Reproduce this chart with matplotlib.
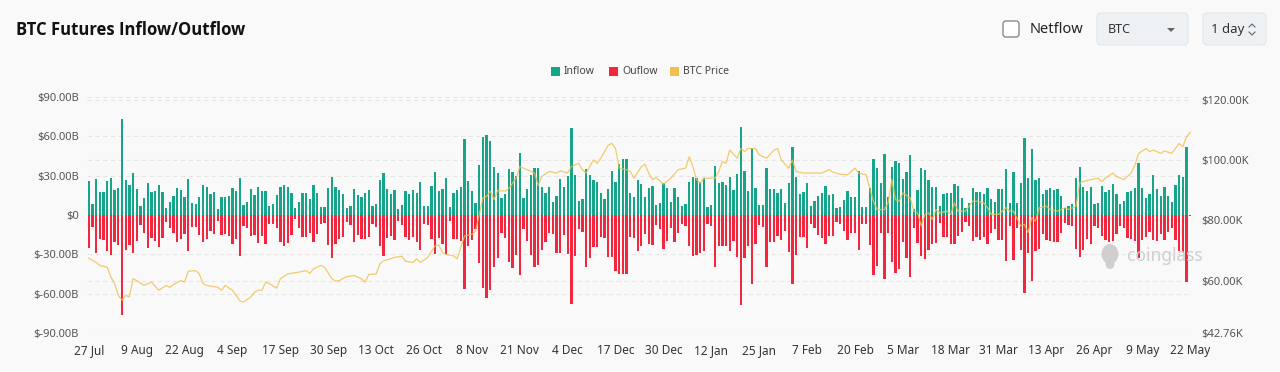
import numpy as np
import pandas as pd
import matplotlib
matplotlib.use("Agg")
import matplotlib.pyplot as plt
from matplotlib.patches import FancyBboxPatch, Rectangle, Ellipse, Polygon
from matplotlib.transforms import IdentityTransform, blended_transform_factory
from matplotlib.lines import Line2D

plt.rcParams['font.family'] = ['Noto Sans', 'DejaVu Sans']

# ---------------- data ----------------
start_date = "2024-07-27"
end_date = "2025-05-22"

inflow = [
    25.9, 8.6, 27.7, 17.3, 17.8, 26.2, 28.4, 19.0, 20.6, 73.4,
    26.9, 22.9, 32.0, 19.8, 7.1, 13.0, 24.6, 17.3, 18.5, 22.6,
    17.8, 5.1, 9.9, 14.2, 20.8, 19.0, 14.0, 27.4, 9.1, 8.1,
    14.0, 23.1, 21.3, 15.7, 17.5, 4.3, 14.0, 13.5, 14.2, 20.6,
    18.3, 28.4, 7.4, 9.7, 20.1, 15.0, 21.3, 18.0, 18.5, 6.9,
    8.1, 15.5, 21.6, 23.1, 21.6, 17.0, 5.1, 10.2, 16.5, 16.5,
    12.4, 22.6, 16.8, 6.1, 5.8, 20.8, 29.2, 21.6, 18.8, 16.0,
    5.1, 6.9, 20.1, 15.0, 14.0, 16.8, 18.8, 7.1, 8.6, 26.4,
    31.8, 20.1, 15.7, 19.0, 4.3, 7.9, 18.5, 15.7, 18.8, 16.8,
    25.1, 6.9, 6.9, 22.1, 32.5, 18.0, 19.8, 28.4, 6.1, 16.5,
    18.8, 21.3, 58.2, 25.9, 18.5, 9.4, 38.1, 59.4, 61.0, 56.4,
    36.8, 31.8, 12.7, 16.0, 34.8, 32.8, 30.0, 47.2, 13.0, 19.6,
    30.5, 35.8, 36.1, 21.6, 17.0, 21.3, 9.9, 14.2, 27.7, 21.6,
    29.7, 66.5, 30.7, 10.7, 11.9, 35.3, 30.5, 26.4, 24.9, 17.0,
    11.9, 19.6, 33.5, 25.1, 38.6, 42.4, 42.9, 17.0, 14.0, 26.7,
    23.9, 14.0, 20.6, 22.4, 7.6, 9.1, 24.6, 20.6, 9.9, 20.6,
    13.7, 6.9, 8.1, 24.9, 29.0, 27.9, 25.1, 28.4, 6.4, 7.6,
    37.3, 24.1, 25.1, 22.6, 29.2, 18.8, 31.0, 67.3, 33.3, 18.3,
    50.8, 20.3, 7.6, 7.6, 36.1, 19.6, 19.6, 16.5, 20.1, 9.1,
    24.6, 51.6, 29.0, 16.3, 17.8, 24.1, 6.6, 10.4, 14.7, 16.5,
    22.1, 15.2, 15.7, 5.1, 6.1, 11.4, 18.0, 13.7, 13.7, 33.5,
    6.4, 6.4, 20.8, 42.9, 36.1, 24.6, 46.5, 14.0, 36.8, 41.1,
    39.9, 27.7, 32.8, 45.5, 4.3, 19.3, 36.1, 34.5, 26.9, 21.3,
    21.3, 6.9, 16.3, 16.5, 16.5, 23.6, 22.1, 13.2, 5.6, 9.4,
    20.8, 17.5, 17.8, 16.0, 20.8, 11.9, 9.9, 19.6, 19.6, 35.3,
    8.9, 33.0, 8.9, 24.1, 58.9, 28.4, 50.5, 26.7, 27.9, 15.7,
    19.0, 20.6, 18.8, 20.1, 14.2, 5.1, 6.9, 8.1, 27.9, 36.3,
    21.6, 18.3, 21.6, 8.1, 9.1, 22.1, 17.3, 19.3, 23.4, 16.3,
    8.1, 10.4, 17.5, 18.5, 20.8, 39.4, 20.8, 13.2, 15.7, 30.2,
    19.8, 14.2, 21.6, 14.5, 9.9, 23.1, 30.5, 29.0, 52.1, 0.3,
]

outflow = [
    24.9, 8.9, 28.7, 18.5, 18.8, 27.4, 30.5, 20.8, 22.9, 76.2,
    26.4, 22.9, 28.7, 20.1, 7.6, 13.7, 25.1, 17.5, 20.1, 24.1,
    17.5, 5.1, 9.9, 14.0, 20.6, 18.5, 14.5, 27.4, 8.9, 9.4,
    15.0, 20.6, 18.0, 12.4, 14.2, 4.8, 15.5, 14.5, 16.0, 22.4,
    18.5, 31.2, 8.1, 9.7, 16.3, 15.2, 21.1, 16.3, 22.4, 6.9,
    7.1, 9.9, 20.3, 23.4, 21.1, 15.5, 3.0, 9.9, 17.0, 17.0,
    13.5, 20.3, 14.7, 6.9, 6.1, 22.9, 32.8, 22.1, 18.5, 16.5,
    5.1, 7.9, 20.6, 15.5, 18.0, 18.3, 16.8, 6.9, 8.9, 23.6,
    31.5, 17.3, 16.3, 18.8, 4.6, 7.9, 16.5, 19.3, 17.0, 20.3,
    26.4, 6.6, 7.6, 18.5, 29.5, 17.8, 21.8, 29.7, 4.3, 18.0,
    18.5, 20.1, 56.1, 23.6, 19.1, 10.4, 36.3, 55.9, 63.2, 56.9,
    39.6, 32.5, 13.5, 17.3, 36.1, 40.6, 30.2, 45.5, 10.7, 20.1,
    30.7, 39.6, 38.4, 26.7, 20.6, 14.0, 14.7, 29.2, 28.7, 15.0,
    30.0, 67.6, 31.2, 10.9, 13.0, 39.9, 32.8, 24.6, 24.6, 17.0,
    17.3, 32.0, 32.0, 42.7, 44.7, 45.2, 45.2, 17.0, 17.3, 27.4,
    23.6, 14.7, 22.4, 23.1, 7.9, 10.9, 25.9, 19.8, 9.7, 20.6,
    14.0, 7.1, 8.4, 23.6, 31.2, 30.5, 29.2, 27.4, 6.6, 8.4,
    39.4, 23.6, 23.6, 23.6, 27.4, 19.8, 31.8, 68.8, 33.0, 23.6,
    52.6, 22.4, 7.9, 8.9, 39.4, 20.6, 20.3, 16.0, 19.1, 12.0,
    28.0, 52.3, 30.5, 17.0, 17.0, 25.4, 6.9, 10.2, 15.5, 17.3,
    22.4, 16.0, 16.0, 5.1, 6.6, 12.2, 19.1, 14.0, 14.0, 26.9,
    7.1, 7.1, 23.1, 45.7, 38.9, 13.5, 48.8, 14.0, 35.8, 43.9,
    40.9, 20.6, 32.5, 47.0, 9.7, 21.1, 31.2, 33.8, 27.0, 22.4,
    21.1, 5.8, 16.8, 16.8, 22.4, 22.4, 16.0, 13.0, 5.3, 8.4,
    20.1, 17.0, 19.1, 17.0, 22.4, 13.5, 10.4, 19.1, 19.1, 35.0,
    8.4, 34.0, 9.7, 26.4, 59.4, 29.0, 50.3, 27.4, 26.2, 14.7,
    19.3, 19.8, 20.6, 20.3, 13.5, 5.8, 7.6, 8.4, 26.2, 31.8,
    26.7, 18.0, 22.4, 8.4, 9.7, 16.0, 19.1, 20.6, 19.8, 14.7,
    8.4, 9.7, 17.3, 18.0, 19.6, 33.0, 19.1, 16.5, 12.7, 19.1,
    20.1, 14.2, 18.8, 13.0, 9.7, 19.1, 27.4, 28.2, 51.3, 0.8,
]

# BTC price (thousand USD), sampled on given day offsets from start_date
price_day = [
    0, 2, 3, 5, 6, 7, 8, 9, 10, 11, 12, 13, 15, 17, 19, 21, 22, 23, 25, 26,
    27, 29, 30, 31, 32, 35, 36, 37, 39, 40, 41, 42, 44, 45, 46, 47, 48, 49, 51, 52,
    54, 57, 59, 60, 61, 63, 64, 66, 67, 68, 70, 72, 74, 75, 76, 78, 79, 80, 82, 83,
    85, 86, 88, 89, 90, 92, 94, 95, 96, 97, 99, 100, 102, 104, 105, 107, 108, 109, 110, 111,
    113, 114, 116, 117, 119, 121, 122, 123, 125, 127, 128, 130, 131, 132, 133, 134, 135, 137, 138, 139,
    141, 142, 143, 144, 146, 147, 148, 150, 151, 152, 153, 154, 156, 158, 160, 162, 163, 164, 165, 166,
    167, 170, 171, 172, 173, 174, 176, 177, 178, 179, 181, 182, 184, 186, 187, 188, 190, 191, 192, 194,
    196, 197, 199, 201, 202, 204, 206, 207, 208, 209, 211, 212, 213, 214, 216, 217, 218, 219, 220, 221,
    223, 224, 225, 226, 227, 228, 229, 230, 231, 233, 234, 235, 236, 238, 240, 241, 243, 244, 245, 247,
    249, 250, 251, 253, 254, 255, 256, 257, 258, 260, 261, 263, 265, 266, 268, 269, 270, 272, 274, 275,
    276, 278, 279, 281, 283, 284, 285, 287, 288, 289, 291, 292, 294, 296, 297, 298, 299,
]
btc_price = [
    67.5, 66.1, 65.1, 64.5, 61.2, 59.1, 55.2, 53.6, 55.2, 54.7, 60.7, 60.1, 58.5, 59.6, 56.9, 58.5, 57.9, 58.8, 60.1, 59.6,
    63.2, 63.4, 62.3, 59.1, 58.5, 57.9, 56.9, 58.5, 56.9, 55.2, 53.4, 53.0, 54.7, 56.3, 56.9, 56.9, 59.6, 59.1, 57.6, 60.7,
    62.3, 62.9, 63.4, 62.5, 64.0, 65.1, 64.5, 60.7, 59.9, 60.1, 61.4, 61.8, 60.7, 59.6, 62.1, 62.3, 65.6, 66.7, 67.3, 67.8,
    68.1, 66.5, 66.1, 67.3, 66.1, 67.8, 71.6, 71.9, 69.4, 68.7, 68.3, 67.3, 74.9, 75.4, 76.5, 87.5, 88.0, 89.7, 86.9, 89.9,
    89.7, 90.5, 94.0, 97.8, 96.8, 95.7, 91.6, 94.6, 96.2, 95.7, 96.4, 95.7, 97.8, 98.4, 98.9, 96.8, 95.7, 100.0, 98.9, 100.6,
    104.9, 105.5, 103.8, 97.3, 96.8, 96.2, 94.0, 97.8, 98.6, 95.7, 93.5, 94.2, 92.0, 94.0, 96.8, 97.3, 101.1, 97.8, 93.5, 92.4,
    94.0, 94.0, 96.2, 99.5, 98.9, 103.3, 100.6, 103.8, 102.8, 103.8, 103.8, 101.7, 100.6, 103.3, 103.8, 100.0, 97.3, 100.0, 96.2, 95.7,
    95.7, 95.7, 95.7, 96.8, 96.0, 95.3, 95.1, 96.2, 97.3, 95.7, 95.1, 90.7, 86.4, 83.6, 83.6, 85.8, 93.5, 86.9, 86.4, 89.1,
    87.5, 83.1, 82.5, 78.2, 82.0, 82.5, 80.4, 83.6, 82.5, 83.1, 82.0, 85.8, 83.1, 83.1, 86.4, 86.4, 85.8, 84.2, 82.0, 82.0,
    84.2, 83.1, 83.1, 78.2, 78.7, 76.0, 80.9, 79.8, 84.2, 84.7, 83.6, 83.1, 84.2, 83.6, 84.7, 92.4, 92.9, 93.5, 94.0, 92.9,
    94.0, 95.7, 94.6, 93.5, 95.7, 98.4, 102.2, 103.8, 102.8, 103.3, 102.2, 103.0, 102.2, 105.5, 104.4, 107.7, 109.1,
]

left_ticks = [-90, -60, -30, 0, 30, 60, 90]
left_labels = ["$-90.00B", "$-60.00B", "$-30.00B", "$0", "$30.00B", "$60.00B", "$90.00B"]
right_ticks = [42.76, 60, 80, 100, 120]
right_labels = ["$42.76K", "$60.00K", "$80.00K", "$100.00K", "$120.00K"]
legend_labels = ["Inflow", "Ouflow", "BTC Price"]

# ---------------- style ----------------
W, H = 1280, 372
BG = "#f9f9f9"
GREEN = "#17a589"
RED = "#f2263c"
GOLD = "#f1bf4b"
GRID = "#e6e6e6"

dates = pd.date_range(start_date, end_date, freq="D")
x = np.arange(len(dates))

fig = plt.figure(figsize=(W / 100, H / 100), dpi=100, facecolor=BG)


def fx(px):
    return px / W


def fy(py):
    return 1 - py / H


ax = fig.add_axes([fx(87), fy(333), fx(1192) - fx(87), fy(97) - fy(333)])
ax.set_facecolor("none")
for s in ax.spines.values():
    s.set_visible(False)

ax.bar(x, inflow, width=0.62, color=GREEN, zorder=2, linewidth=0)
ax.bar(x, -np.array(outflow), width=0.62, color=RED, zorder=2, linewidth=0)
ax.set_xlim(-0.5, len(dates) - 0.5)
ax.set_ylim(-90, 90)
ax.set_yticks(left_ticks)
ax.set_yticklabels(left_labels)
ax.tick_params(axis="y", length=0, pad=6, labelsize=8, labelcolor="#555555")

tick_idx = x[::13]
ax.set_xticks(tick_idx)
ax.set_xticklabels([f"{d.day} {d.strftime('%b')}" for d in dates[tick_idx]])
ax.tick_params(axis="x", length=0, pad=8, labelsize=8.5, labelcolor="#333333")

for t in left_ticks:
    ax.axhline(t, color=GRID, lw=0.8, ls=(0, (4, 3)), zorder=0)

ax2 = ax.twinx()
for s in ax2.spines.values():
    s.set_visible(False)
ax2.set_ylim(42.76, 120.85)
ax2.set_yticks(right_ticks)
ax2.set_yticklabels(right_labels)
ax2.tick_params(axis="y", length=0, pad=7, labelsize=8, labelcolor="#555555")
btrans = blended_transform_factory(ax.transAxes, ax2.transData)
for t in right_ticks:
    ax.plot([0, 1], [t, t], transform=btrans, color=GRID, lw=0.8, ls=(0, (4, 3)), zorder=0)

ax2.plot(price_day, btc_price, color=GOLD, lw=0.9, alpha=0.8, zorder=3)

# watermark
fig.text(fx(1127), fy(256), "coinglass", fontsize=12.5, fontweight="bold",
         color="#cfcfcf", va="center", ha="left")
fig.add_artist(Ellipse((fx(1110), fy(254)), fx(17), 20 / H, transform=fig.transFigure,
                       facecolor="#cfcfcf", edgecolor="none"))
fig.add_artist(Ellipse((fx(1110), fy(264)), fx(9), 10 / H, transform=fig.transFigure,
                       facecolor="#cfcfcf", edgecolor="none"))

# title
fig.text(fx(16), fy(30), "BTC Futures Inflow/Outflow", fontsize=12, fontweight="bold",
         family=["Open Sans", "DejaVu Sans"], color="#111111", va="center", ha="left")

# legend
leg_items = [(551, GREEN, legend_labels[0]), (609, RED, legend_labels[1]), (670, GOLD, legend_labels[2])]
for px0, col, lab in leg_items:
    fig.add_artist(Rectangle((fx(px0), fy(75.5)), fx(9), 9 / H, transform=fig.transFigure,
                             facecolor=col, edgecolor="none"))
    fig.text(fx(px0 + 13), fy(71), lab, fontsize=7.5, color="#444444", va="center", ha="left")


# controls, in pixel coordinates with origin at top-left
def rbox(x0, y0, x1, y1, fc, ec, r=4, lw=1.0):
    p = FancyBboxPatch((x0, H - y1), x1 - x0, y1 - y0,
                       boxstyle=f"round,pad=0,rounding_size={r}",
                       transform=IdentityTransform(), facecolor=fc, edgecolor=ec, linewidth=lw)
    fig.add_artist(p)


rbox(1003, 21, 1019, 37, "#ffffff", "#8a8a8a", r=3, lw=1.0)
fig.text(fx(1030), fy(29.5), "Netflow", fontsize=10.5, color="#222222", va="center", ha="left")
rbox(1097, 13, 1188, 45, "#eef1f4", "#e2e6ea", r=4, lw=0.8)
fig.text(fx(1108), fy(29.5), "BTC", fontsize=9, color="#333333", va="center", ha="left")
fig.add_artist(Polygon([(fx(1167), fy(28)), (fx(1175), fy(28)), (fx(1171), fy(32))],
                       closed=True, transform=fig.transFigure, facecolor="#666666",
                       edgecolor="none"))
rbox(1203, 13, 1266, 45, "#eef1f4", "#e2e6ea", r=4, lw=0.8)
fig.text(fx(1211), fy(29.5), "1 day", fontsize=9.5, color="#333333", va="center", ha="left")
for pts in ([(1249, 27), (1252, 24), (1255, 27)], [(1249, 32), (1252, 35), (1255, 32)]):
    fig.add_artist(Line2D([fx(p[0]) for p in pts], [fy(p[1]) for p in pts],
                          transform=fig.transFigure, color="#666666", lw=0.8))

fig.savefig("out.png", dpi=100, facecolor=BG)
